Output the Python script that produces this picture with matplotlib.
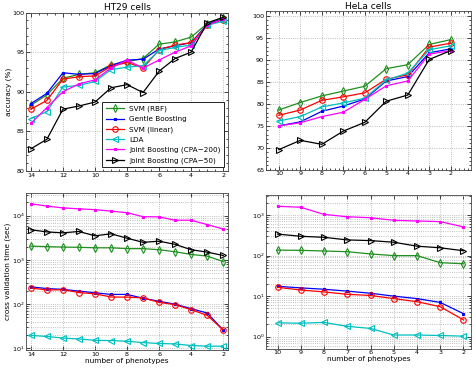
import numpy as np
import matplotlib
matplotlib.use('Agg')
import matplotlib.pyplot as plt
from matplotlib.ticker import LogLocator, NullFormatter

# number of phenotypes
ht29_n = [14, 13, 12, 11, 10, 9, 8, 7, 6, 5, 4, 3, 2]
hela_n = [10, 9, 8, 7, 6, 5, 4, 3, 2]

labels = ['SVM (RBF)', 'Gentle Boosting', 'SVM (linear)', 'LDA',
          'Joint Boosting (CPA\u2212200)', 'Joint Boosting (CPA\u221250)']

# accuracy (%)
ht29_acc_svm_rbf = [88.3, 89.6, 91.7, 92.2, 92.4, 93.4, 93.8, 94.2, 96.0, 96.3, 96.9, 98.6, 99.3]
ht29_acc_gentle = [88.5, 89.8, 92.4, 92.2, 92.3, 93.3, 94.0, 94.1, 95.4, 95.8, 96.2, 98.5, 99.2]
ht29_acc_svm_lin = [87.8, 88.9, 91.6, 91.9, 92.0, 93.2, 93.7, 93.0, 95.3, 95.9, 96.2, 98.4, 99.1]
ht29_acc_lda = [86.6, 87.5, 90.6, 90.8, 91.3, 92.8, 93.1, 93.3, 95.2, 95.6, 95.9, 98.4, 98.9]
ht29_acc_jb200 = [86.0, 88.0, 90.0, 91.0, 91.5, 93.0, 94.0, 93.0, 94.0, 95.0, 95.8, 98.4, 99.2]
ht29_acc_jb50 = [82.8, 84.0, 87.8, 88.2, 88.7, 90.5, 90.9, 89.9, 92.6, 94.2, 95.0, 98.7, 99.4]

hela_acc_svm_rbf = [78.6, 80.3, 81.8, 82.9, 84.0, 88.0, 88.9, 93.5, 94.6]
hela_acc_gentle = [75.0, 75.9, 78.3, 79.5, 81.1, 85.2, 86.2, 91.6, 92.5]
hela_acc_svm_lin = [77.4, 78.6, 80.8, 81.6, 82.5, 85.6, 86.6, 92.9, 93.8]
hela_acc_lda = [76.1, 77.1, 79.3, 80.2, 81.3, 85.4, 87.0, 92.3, 93.2]
hela_acc_jb200 = [75.0, 75.7, 77.1, 78.1, 81.0, 84.1, 85.2, 91.3, 92.1]
hela_acc_jb50 = [69.6, 71.7, 70.8, 73.8, 75.8, 80.6, 82.0, 90.1, 92.1]

# cross validation time (sec)
ht29_t_svm_rbf = [2050, 2000, 1950, 1930, 1880, 1880, 1800, 1800, 1700, 1530, 1330, 1220, 920]
ht29_t_gentle = [247, 225, 216, 197, 181, 166, 166, 136, 116, 100, 79, 63, 26]
ht29_t_svm_lin = [232, 209, 212, 183, 171, 145, 144, 138, 110, 97, 75, 56, 26]
ht29_t_lda = [19.6, 18.6, 17.1, 16.3, 15.2, 15.0, 14.5, 13.5, 12.9, 12.6, 11.6, 11.2, 11.2]
ht29_t_jb200 = [18600, 16500, 15000, 14300, 13700, 12700, 11700, 9500, 9400, 7900, 7900, 6300, 5000]
ht29_t_jb50 = [4800, 4300, 4100, 4400, 3500, 3900, 3100, 2500, 2650, 2250, 1700, 1500, 1260]

hela_t_svm_rbf = [137, 135, 130, 125, 110, 100, 100, 67, 63]
hela_t_gentle = [17.5, 16.0, 14.8, 13.3, 11.8, 10.0, 8.7, 7.0, 3.7]
hela_t_svm_lin = [16.5, 14.2, 12.7, 11.1, 10.4, 8.7, 7.3, 5.5, 2.6]
hela_t_lda = [2.2, 2.15, 2.25, 1.8, 1.6, 1.1, 1.1, 1.07, 1.03]
hela_t_jb200 = [1650, 1560, 1040, 910, 860, 745, 715, 690, 510]
hela_t_jb50 = [340, 300, 283, 244, 235, 214, 171, 156, 132]

colors = ['#1f8f1f', '#0000ff', '#ff0000', '#00bfbf', '#ff00ff', '#000000']
markers = ['d', 's', 'o', '<', 's', '>']
filled = [False, True, False, False, True, False]
msizes = [4, 2, 4, 4, 2, 4]

plt.rcParams['font.family'] = 'DejaVu Sans'
fig = plt.figure(figsize=(4.74, 3.70), dpi=100)

ax_tl = fig.add_axes([0.055, 0.538, 0.426, 0.428])
ax_tr = fig.add_axes([0.561, 0.541, 0.433, 0.428])
ax_bl = fig.add_axes([0.055, 0.053, 0.426, 0.426])
ax_br = fig.add_axes([0.561, 0.058, 0.433, 0.416])


def draw(ax, x, series, log=False):
    for i, y in enumerate(series):
        ax.plot(x, y, color=colors[i], marker=markers[i], markersize=msizes[i],
                markerfacecolor=colors[i] if filled[i] else 'none',
                markeredgewidth=0.8, linewidth=0.9, label=labels[i])
    if log:
        ax.set_yscale('log')
        ax.yaxis.set_minor_locator(LogLocator(base=10, subs=np.arange(2, 10)))
        ax.yaxis.set_minor_formatter(NullFormatter())
        ax.grid(True, which='both', linestyle=':', color='#aaaaaa', linewidth=0.6)
    else:
        ax.grid(True, which='major', linestyle=':', color='#aaaaaa', linewidth=0.6)
        ax.minorticks_on()
    ax.tick_params(which='both', direction='in', top=True, right=True,
                   labelsize=4.6, pad=1.2)
    ax.tick_params(which='major', length=3, width=0.5)
    ax.tick_params(which='minor', length=1.5, width=0.5)
    for s in ax.spines.values():
        s.set_linewidth(0.6)
        s.set_color('#444444')


draw(ax_tl, ht29_n, [ht29_acc_svm_rbf, ht29_acc_gentle, ht29_acc_svm_lin,
                     ht29_acc_lda, ht29_acc_jb200, ht29_acc_jb50])
ax_tl.set_xlim(14.3, 1.7)
ax_tl.set_ylim(80, 100)
ax_tl.set_xticks([14, 12, 10, 8, 6, 4, 2])
ax_tl.set_yticks([80, 85, 90, 95, 100])
ax_tl.set_title('HT29 cells', fontsize=6.5, pad=1.5)
ax_tl.set_ylabel('accuracy (%)', fontsize=5.3, labelpad=0.5)
ax_tl.legend(loc='lower right', fontsize=5.2, frameon=True, fancybox=False,
             edgecolor='black', framealpha=1, borderpad=0.5, labelspacing=0.55,
             handlelength=2.5).get_frame().set_linewidth(0.6)

draw(ax_tr, hela_n, [hela_acc_svm_rbf, hela_acc_gentle, hela_acc_svm_lin,
                     hela_acc_lda, hela_acc_jb200, hela_acc_jb50])
ax_tr.set_xlim(10.6, 1.05)
ax_tr.set_ylim(65, 101)
ax_tr.set_xticks(hela_n)
ax_tr.set_yticks([65, 70, 75, 80, 85, 90, 95, 100])
ax_tr.set_title('HeLa cells', fontsize=6.5, pad=1.5)

draw(ax_bl, ht29_n, [ht29_t_svm_rbf, ht29_t_gentle, ht29_t_svm_lin,
                     ht29_t_lda, ht29_t_jb200, ht29_t_jb50], log=True)
ax_bl.set_xlim(14.3, 1.7)
ax_bl.set_ylim(9, 3.3e4)
ax_bl.set_xticks([14, 12, 10, 8, 6, 4, 2])
ax_bl.set_ylabel('cross validation time (sec)', fontsize=5.3, labelpad=0.5)
ax_bl.set_xlabel('number of phenotypes', fontsize=5.3, labelpad=0.5)

draw(ax_br, hela_n, [hela_t_svm_rbf, hela_t_gentle, hela_t_svm_lin,
                     hela_t_lda, hela_t_jb200, hela_t_jb50], log=True)
ax_br.set_xlim(10.5, 1.67)
ax_br.set_ylim(0.51, 3200)
ax_br.set_xticks(hela_n)
ax_br.set_xlabel('number of phenotypes', fontsize=5.3, labelpad=0.5)

plt.savefig('out.png', dpi=100)
plt.close()
